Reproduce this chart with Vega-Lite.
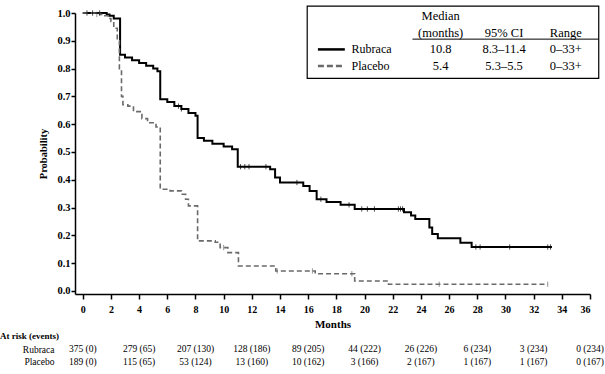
{
  "$schema": "https://vega.github.io/schema/vega-lite/v6.json",
  "padding": {"left": 0, "top": 5, "right": 0, "bottom": 0},
  "background": "white",
  "config": {
    "font": "Liberation Serif, Times New Roman, serif",
    "view": {"stroke": null},
    "text": {"font": "Liberation Serif, Times New Roman, serif", "color": "black"},
    "axis": {"labelFont": "Liberation Serif, Times New Roman, serif", "titleFont": "Liberation Serif, Times New Roman, serif"},
    "title": {"font": "Liberation Serif, Times New Roman, serif"}
  },
  "datasets": {
    "km": [
      {"arm": "Rubraca", "t": 0, "s": 1.0},
      {"arm": "Rubraca", "t": 1.7, "s": 0.995},
      {"arm": "Rubraca", "t": 1.9, "s": 0.99},
      {"arm": "Rubraca", "t": 2.2, "s": 0.98},
      {"arm": "Rubraca", "t": 2.65, "s": 0.85},
      {"arm": "Rubraca", "t": 3.0, "s": 0.84},
      {"arm": "Rubraca", "t": 3.5, "s": 0.83},
      {"arm": "Rubraca", "t": 4.0, "s": 0.82},
      {"arm": "Rubraca", "t": 4.5, "s": 0.81},
      {"arm": "Rubraca", "t": 5.0, "s": 0.8},
      {"arm": "Rubraca", "t": 5.3, "s": 0.79},
      {"arm": "Rubraca", "t": 5.5, "s": 0.69},
      {"arm": "Rubraca", "t": 6.0, "s": 0.68},
      {"arm": "Rubraca", "t": 6.5, "s": 0.665},
      {"arm": "Rubraca", "t": 7.0, "s": 0.655},
      {"arm": "Rubraca", "t": 7.5, "s": 0.64},
      {"arm": "Rubraca", "t": 8.0, "s": 0.63},
      {"arm": "Rubraca", "t": 8.15, "s": 0.55},
      {"arm": "Rubraca", "t": 8.6, "s": 0.54},
      {"arm": "Rubraca", "t": 9.2, "s": 0.53},
      {"arm": "Rubraca", "t": 10.0, "s": 0.52},
      {"arm": "Rubraca", "t": 10.6, "s": 0.51},
      {"arm": "Rubraca", "t": 11.0, "s": 0.447},
      {"arm": "Rubraca", "t": 13.3, "s": 0.438},
      {"arm": "Rubraca", "t": 13.65, "s": 0.408},
      {"arm": "Rubraca", "t": 14.0, "s": 0.39},
      {"arm": "Rubraca", "t": 15.65, "s": 0.378},
      {"arm": "Rubraca", "t": 16.1, "s": 0.36},
      {"arm": "Rubraca", "t": 16.6, "s": 0.33},
      {"arm": "Rubraca", "t": 17.3, "s": 0.32},
      {"arm": "Rubraca", "t": 18.3, "s": 0.31},
      {"arm": "Rubraca", "t": 19.3, "s": 0.295},
      {"arm": "Rubraca", "t": 22.8, "s": 0.283},
      {"arm": "Rubraca", "t": 23.3, "s": 0.271},
      {"arm": "Rubraca", "t": 23.6, "s": 0.259},
      {"arm": "Rubraca", "t": 24.6, "s": 0.228},
      {"arm": "Rubraca", "t": 24.8, "s": 0.205},
      {"arm": "Rubraca", "t": 25.2, "s": 0.19},
      {"arm": "Rubraca", "t": 26.8, "s": 0.173},
      {"arm": "Rubraca", "t": 27.6, "s": 0.158},
      {"arm": "Rubraca", "t": 33.3, "s": 0.158},
      {"arm": "Placebo", "t": 0, "s": 1.0},
      {"arm": "Placebo", "t": 1.2, "s": 0.995},
      {"arm": "Placebo", "t": 1.5, "s": 0.99},
      {"arm": "Placebo", "t": 1.8, "s": 0.98},
      {"arm": "Placebo", "t": 2.0, "s": 0.97},
      {"arm": "Placebo", "t": 2.2, "s": 0.945},
      {"arm": "Placebo", "t": 2.45, "s": 0.9},
      {"arm": "Placebo", "t": 2.6, "s": 0.8},
      {"arm": "Placebo", "t": 2.75, "s": 0.7},
      {"arm": "Placebo", "t": 2.85, "s": 0.67},
      {"arm": "Placebo", "t": 3.2, "s": 0.665},
      {"arm": "Placebo", "t": 3.6, "s": 0.645},
      {"arm": "Placebo", "t": 4.2, "s": 0.62},
      {"arm": "Placebo", "t": 4.6, "s": 0.605},
      {"arm": "Placebo", "t": 5.2, "s": 0.59},
      {"arm": "Placebo", "t": 5.5, "s": 0.366},
      {"arm": "Placebo", "t": 6.2, "s": 0.36},
      {"arm": "Placebo", "t": 7.0, "s": 0.348},
      {"arm": "Placebo", "t": 7.3, "s": 0.33},
      {"arm": "Placebo", "t": 7.5, "s": 0.306},
      {"arm": "Placebo", "t": 8.15, "s": 0.18},
      {"arm": "Placebo", "t": 9.4, "s": 0.175},
      {"arm": "Placebo", "t": 9.75, "s": 0.156},
      {"arm": "Placebo", "t": 10.3, "s": 0.138},
      {"arm": "Placebo", "t": 11.05, "s": 0.09},
      {"arm": "Placebo", "t": 13.7, "s": 0.072},
      {"arm": "Placebo", "t": 16.5, "s": 0.062},
      {"arm": "Placebo", "t": 19.3, "s": 0.036},
      {"arm": "Placebo", "t": 21.7, "s": 0.024},
      {"arm": "Placebo", "t": 33.0, "s": 0.024}
    ],
    "censor": [
      {"arm": "Rubraca", "t": 0.3, "s": 1.0},
      {"arm": "Rubraca", "t": 0.7, "s": 1.0},
      {"arm": "Rubraca", "t": 1.2, "s": 1.0},
      {"arm": "Rubraca", "t": 6.8, "s": 0.665},
      {"arm": "Rubraca", "t": 7.0, "s": 0.655},
      {"arm": "Rubraca", "t": 11.2, "s": 0.447},
      {"arm": "Rubraca", "t": 11.5, "s": 0.447},
      {"arm": "Rubraca", "t": 11.8, "s": 0.447},
      {"arm": "Rubraca", "t": 13.0, "s": 0.447},
      {"arm": "Rubraca", "t": 15.2, "s": 0.39},
      {"arm": "Rubraca", "t": 16.9, "s": 0.33},
      {"arm": "Rubraca", "t": 18.9, "s": 0.31},
      {"arm": "Rubraca", "t": 19.8, "s": 0.295},
      {"arm": "Rubraca", "t": 20.2, "s": 0.295},
      {"arm": "Rubraca", "t": 20.7, "s": 0.295},
      {"arm": "Rubraca", "t": 22.4, "s": 0.295},
      {"arm": "Rubraca", "t": 22.55, "s": 0.295},
      {"arm": "Rubraca", "t": 22.7, "s": 0.295},
      {"arm": "Rubraca", "t": 27.9, "s": 0.158},
      {"arm": "Rubraca", "t": 28.2, "s": 0.158},
      {"arm": "Rubraca", "t": 30.3, "s": 0.158},
      {"arm": "Rubraca", "t": 33.0, "s": 0.158},
      {"arm": "Rubraca", "t": 33.2, "s": 0.158},
      {"arm": "Placebo", "t": 1.0, "s": 0.995},
      {"arm": "Placebo", "t": 10.0, "s": 0.156},
      {"arm": "Placebo", "t": 13.8, "s": 0.072},
      {"arm": "Placebo", "t": 16.3, "s": 0.072},
      {"arm": "Placebo", "t": 19.1, "s": 0.062},
      {"arm": "Placebo", "t": 25.3, "s": 0.024},
      {"arm": "Placebo", "t": 33.0, "s": 0.024}
    ],
    "leg": [
      {"arm": "Rubraca", "median": "10.8", "ci": "8.3–11.4", "range": "0–33+"},
      {"arm": "Placebo", "median": "5.4", "ci": "5.3–5.5", "range": "0–33+"}
    ],
    "risk": [
      {"arm": "Rubraca", "t": 0, "n": "375 (0)"},
      {"arm": "Rubraca", "t": 4, "n": "279 (65)"},
      {"arm": "Rubraca", "t": 8, "n": "207 (130)"},
      {"arm": "Rubraca", "t": 12, "n": "128 (186)"},
      {"arm": "Rubraca", "t": 16, "n": "89 (205)"},
      {"arm": "Rubraca", "t": 20, "n": "44 (222)"},
      {"arm": "Rubraca", "t": 24, "n": "26 (226)"},
      {"arm": "Rubraca", "t": 28, "n": "6 (234)"},
      {"arm": "Rubraca", "t": 32, "n": "3 (234)"},
      {"arm": "Rubraca", "t": 36, "n": "0 (234)"},
      {"arm": "Placebo", "t": 0, "n": "189 (0)"},
      {"arm": "Placebo", "t": 4, "n": "115 (65)"},
      {"arm": "Placebo", "t": 8, "n": "53 (124)"},
      {"arm": "Placebo", "t": 12, "n": "13 (160)"},
      {"arm": "Placebo", "t": 16, "n": "10 (162)"},
      {"arm": "Placebo", "t": 20, "n": "3 (166)"},
      {"arm": "Placebo", "t": 24, "n": "2 (167)"},
      {"arm": "Placebo", "t": 28, "n": "1 (167)"},
      {"arm": "Placebo", "t": 32, "n": "1 (167)"},
      {"arm": "Placebo", "t": 36, "n": "0 (167)"}
    ]
  },
  "spacing": 3,
  "vconcat": [
    {
      "width": 515,
      "height": 281,
      "encoding": {
        "x": {
          "type": "quantitative",
          "scale": {"domain": [-0.55, 36], "nice": false, "zero": false},
          "axis": {
            "values": [0, 2, 4, 6, 8, 10, 12, 14, 16, 18, 20, 22, 24, 26, 28, 30, 32, 34, 36],
            "title": "Months",
            "grid": false,
            "domainColor": "black", "domainWidth": 1.5,
            "tickColor": "black", "tickWidth": 1.5, "tickSize": 5,
            "labelFontWeight": "bold", "labelFontSize": 10, "labelColor": "black",
            "labelPadding": 5,
            "titleFontWeight": "bold", "titleFontSize": 11, "titleColor": "black",
            "titlePadding": 4
          }
        },
        "y": {
          "type": "quantitative",
          "scale": {"domain": [-0.011, 1.0], "nice": false, "zero": false},
          "axis": {
            "values": [0, 0.1, 0.2, 0.3, 0.4, 0.5, 0.6, 0.7, 0.8, 0.9, 1.0],
            "format": ".1f",
            "title": "Probability",
            "grid": false,
            "domainColor": "black", "domainWidth": 1.5,
            "tickColor": "black", "tickWidth": 1.5, "tickSize": 4,
            "labelFontWeight": "bold", "labelFontSize": 10.5, "labelColor": "black",
            "labelPadding": 1,
            "titleFontWeight": "bold", "titleFontSize": 10.5, "titleColor": "black",
            "titlePadding": 8
          }
        }
      },
      "layer": [
        {
          "data": {"name": "km"},
          "mark": {"type": "line", "interpolate": "step-after"},
          "encoding": {
            "x": {"field": "t", "type": "quantitative"},
            "y": {"field": "s", "type": "quantitative"},
            "detail": {"field": "arm"},
            "color": {"field": "arm", "type": "nominal", "scale": {"domain": ["Rubraca", "Placebo"], "range": ["#000000", "#6a6a6a"]}, "legend": null},
            "strokeDash": {"field": "arm", "type": "nominal", "scale": {"domain": ["Rubraca", "Placebo"], "range": [[1, 0], [5, 3]]}, "legend": null},
            "strokeWidth": {"field": "arm", "type": "nominal", "scale": {"domain": ["Rubraca", "Placebo"], "range": [2, 1.6]}, "legend": null}
          }
        },
        {
          "data": {"name": "censor"},
          "mark": {"type": "point", "shape": "M0,-1L0,1", "filled": false, "size": 28, "strokeWidth": 1},
          "encoding": {
            "x": {"field": "t", "type": "quantitative"},
            "y": {"field": "s", "type": "quantitative"},
            "color": {"field": "arm", "type": "nominal", "scale": {"domain": ["Rubraca", "Placebo"], "range": ["#000000", "#6a6a6a"]}, "legend": null}
          }
        },
        {
          "data": {"values": [{}]},
          "mark": {"type": "rect", "fill": "white", "stroke": "black", "strokeWidth": 1.2},
          "encoding": {
            "x": {"datum": 15.93}, "x2": {"datum": 36.62},
            "y": {"datum": 1.025}, "y2": {"datum": 0.765}
          }
        },
        {
          "data": {"values": [{}]},
          "mark": {"type": "rule", "color": "black", "strokeWidth": 1},
          "encoding": {
            "x": {"datum": 23.4}, "x2": {"datum": 36.62},
            "y": {"datum": 0.906}
          }
        },
        {
          "data": {"values": [{}]},
          "mark": {"type": "text", "fontSize": 12.5, "align": "center", "baseline": "middle", "text": "Median"},
          "encoding": {"x": {"datum": 25.4}, "y": {"datum": 0.989}}
        },
        {
          "data": {"values": [{}]},
          "mark": {"type": "text", "fontSize": 12.5, "align": "center", "baseline": "middle", "text": "(months)"},
          "encoding": {"x": {"datum": 25.4}, "y": {"datum": 0.929}}
        },
        {
          "data": {"values": [{}]},
          "mark": {"type": "text", "fontSize": 12.5, "align": "center", "baseline": "middle", "text": "95% CI"},
          "encoding": {"x": {"datum": 29.9}, "y": {"datum": 0.929}}
        },
        {
          "data": {"values": [{}]},
          "mark": {"type": "text", "fontSize": 12.5, "align": "center", "baseline": "middle", "text": "Range"},
          "encoding": {"x": {"datum": 34.28}, "y": {"datum": 0.929}}
        },
        {
          "data": {"name": "leg"},
          "transform": [{"filter": "datum.arm == 'Rubraca'"}],
          "encoding": {"y": {"datum": 0.869}},
          "layer": [
            {"mark": {"type": "rule", "color": "black", "strokeWidth": 2.5}, "encoding": {"x": {"datum": 16.69}, "x2": {"datum": 18.6}}},
            {"mark": {"type": "text", "fontSize": 12, "align": "left", "baseline": "middle"}, "encoding": {"x": {"datum": 19.08}, "text": {"field": "arm"}}},
            {"mark": {"type": "text", "fontSize": 12.5, "align": "center", "baseline": "middle"}, "encoding": {"x": {"datum": 25.4}, "text": {"field": "median"}}},
            {"mark": {"type": "text", "fontSize": 12.5, "align": "center", "baseline": "middle"}, "encoding": {"x": {"datum": 29.9}, "text": {"field": "ci"}}},
            {"mark": {"type": "text", "fontSize": 12.5, "align": "center", "baseline": "middle"}, "encoding": {"x": {"datum": 34.28}, "text": {"field": "range"}}}
          ]
        },
        {
          "data": {"name": "leg"},
          "transform": [{"filter": "datum.arm == 'Placebo'"}],
          "encoding": {"y": {"datum": 0.809}},
          "layer": [
            {"mark": {"type": "rule", "color": "#6a6a6a", "strokeWidth": 2.5, "strokeDash": [6, 3]}, "encoding": {"x": {"datum": 16.69}, "x2": {"datum": 18.6}}},
            {"mark": {"type": "text", "fontSize": 12, "align": "left", "baseline": "middle"}, "encoding": {"x": {"datum": 19.08}, "text": {"field": "arm"}}},
            {"mark": {"type": "text", "fontSize": 12.5, "align": "center", "baseline": "middle"}, "encoding": {"x": {"datum": 25.4}, "text": {"field": "median"}}},
            {"mark": {"type": "text", "fontSize": 12.5, "align": "center", "baseline": "middle"}, "encoding": {"x": {"datum": 29.9}, "text": {"field": "ci"}}},
            {"mark": {"type": "text", "fontSize": 12.5, "align": "center", "baseline": "middle"}, "encoding": {"x": {"datum": 34.28}, "text": {"field": "range"}}}
          ]
        }
      ]
    },
    {
      "width": 515,
      "height": 25,
      "title": {
        "text": "At risk (events)",
        "anchor": "start",
        "frame": "group",
        "dx": -75,
        "fontSize": 9,
        "fontWeight": "bold",
        "color": "black",
        "offset": 2
      },
      "data": {"name": "risk"},
      "mark": {"type": "text", "fontSize": 9.5, "align": "center", "baseline": "middle"},
      "encoding": {
        "x": {"field": "t", "type": "quantitative", "scale": {"domain": [-0.55, 36], "nice": false, "zero": false}, "axis": null},
        "y": {
          "field": "arm", "type": "nominal",
          "scale": {"domain": ["Rubraca", "Placebo"], "paddingInner": 0, "paddingOuter": 0},
          "axis": {"title": null, "domain": false, "ticks": false, "labelPadding": 21, "labelFontSize": 9.5, "labelColor": "black"}
        },
        "text": {"field": "n"}
      }
    }
  ]
}
